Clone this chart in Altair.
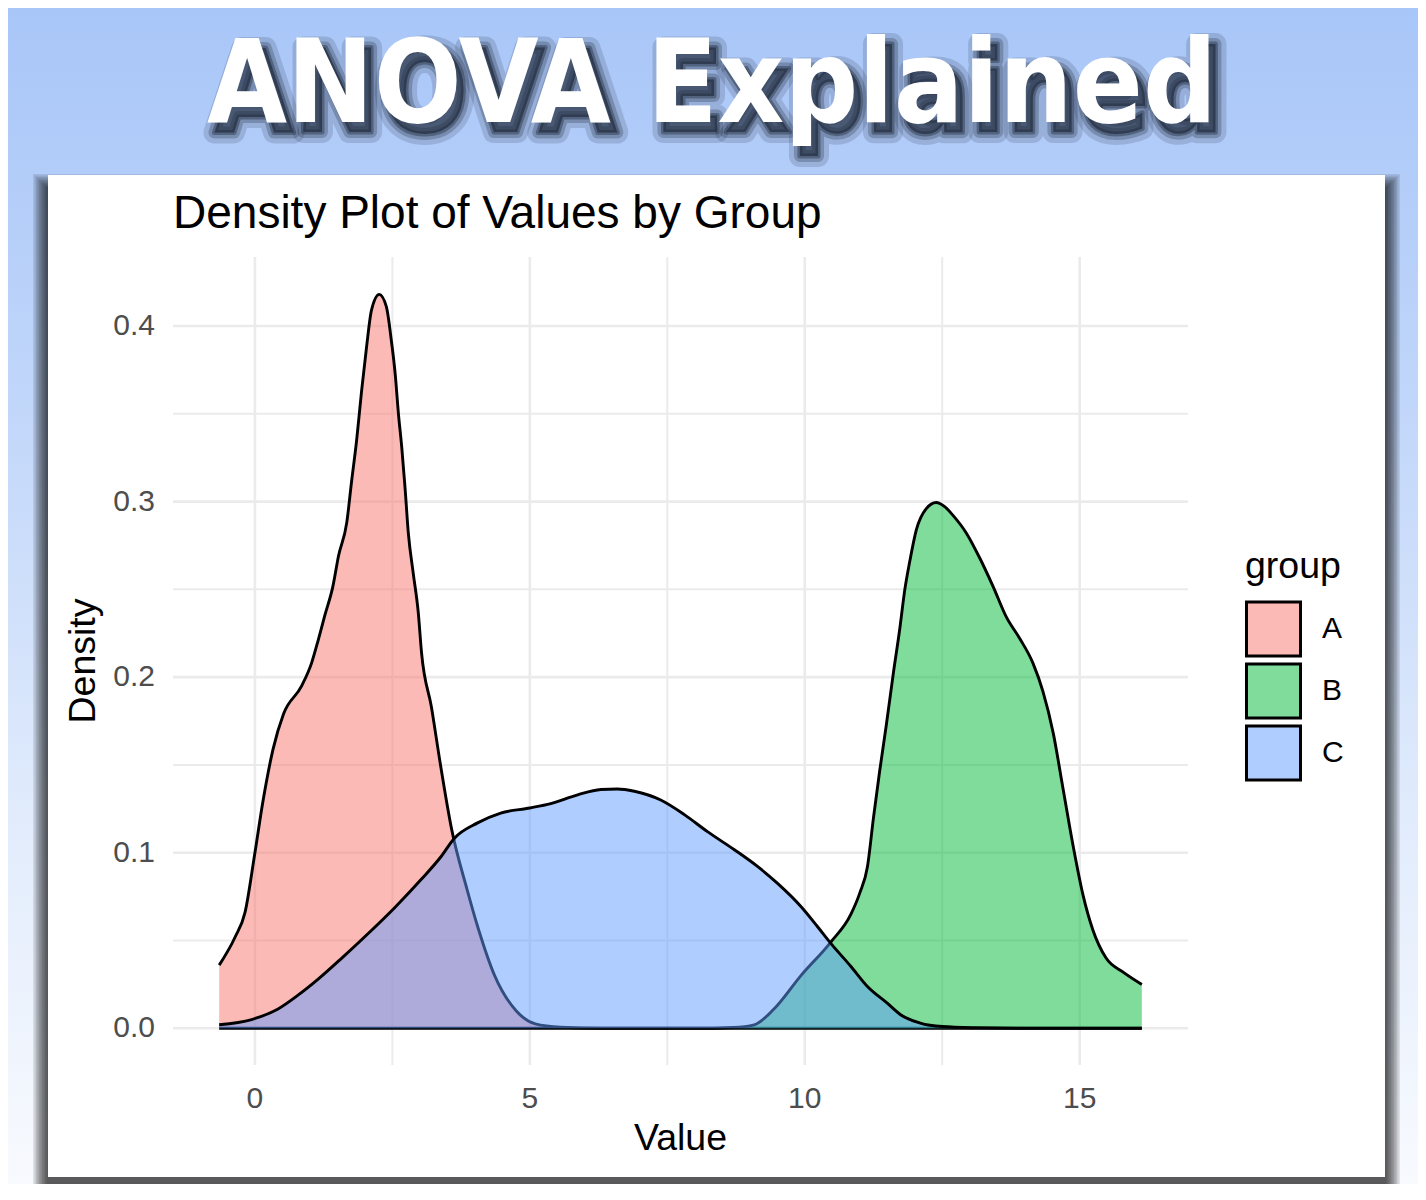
import altair as alt
import pandas as pd

# ---------------- data ----------------
A_x = [-0.65, -0.36, -0.18, 0.0, 0.15, 0.33, 0.52, 0.85, 1.03, 1.15, 1.27, 1.42, 1.52, 1.67, 1.76,
       1.85, 1.94, 2.03, 2.12, 2.26, 2.39, 2.48, 2.55, 2.61, 2.67, 2.73, 2.79, 2.88, 2.97, 3.03,
       3.21, 3.37, 3.58, 3.85, 4.06, 4.36, 4.75, 5.1, 5.56, 6.3, 16.13]
A_d = [0.036, 0.052, 0.066, 0.100, 0.130, 0.159, 0.179, 0.195, 0.208, 0.221, 0.235, 0.252, 0.269, 0.288, 0.312,
       0.335, 0.363, 0.388, 0.409, 0.418, 0.411, 0.392, 0.373, 0.350, 0.331, 0.308, 0.282, 0.259, 0.237, 0.214,
       0.183, 0.151, 0.113, 0.080, 0.057, 0.030, 0.010, 0.0025, 0.0006, 0.0, 0.0]

B_x = [-0.65, 8.0, 8.7, 9.08, 9.44, 9.93, 10.47, 10.84, 11.0, 11.14, 11.25, 11.36, 11.48, 11.61, 11.73,
       11.82, 11.91, 12.03, 12.21, 12.39, 12.55, 12.7, 12.94, 13.18, 13.42, 13.67, 13.91, 14.15, 14.33, 14.52,
       14.70, 14.88, 15.06, 15.24, 15.48, 15.79, 16.13]
B_d = [0.0, 0.0, 0.0005, 0.002, 0.011, 0.030, 0.049, 0.065, 0.077, 0.092, 0.120, 0.146, 0.172, 0.202, 0.228,
       0.250, 0.266, 0.284, 0.296, 0.2995, 0.297, 0.292, 0.282, 0.268, 0.252, 0.234, 0.222, 0.208, 0.192, 0.168,
       0.136, 0.104, 0.076, 0.056, 0.040, 0.032, 0.025]

C_x = [-0.65, -0.06, 0.42, 0.79, 1.15, 1.58, 2.06, 2.55, 3.03, 3.39, 3.62, 4.05, 4.47, 5.0, 5.38,
       5.87, 6.29, 6.59, 6.9, 7.38, 7.81, 8.23, 8.72, 9.14, 9.5, 9.93, 10.23, 10.47, 10.84, 11.14,
       11.5, 11.75, 12.1, 12.5, 13.1, 14.0, 16.13]
C_d = [0.002, 0.005, 0.011, 0.019, 0.028, 0.040, 0.054, 0.069, 0.085, 0.098, 0.108, 0.117, 0.1226, 0.1255, 0.128,
       0.133, 0.136, 0.1363, 0.135, 0.130, 0.1217, 0.112, 0.1017, 0.0922, 0.0827, 0.0694, 0.058, 0.0485, 0.0352, 0.0238,
       0.0143, 0.0076, 0.003, 0.001, 0.0003, 0.0, 0.0]

groups = ["A", "B", "C"]
fill_colors = ["rgba(248,118,109,0.5)", "rgba(0,186,56,0.5)", "rgba(97,156,255,0.5)"]

x_major = [0, 5, 10, 15]
x_minor = [2.5, 7.5, 12.5]
y_major = [0.0, 0.1, 0.2, 0.3, 0.4]
y_minor = [0.05, 0.15, 0.25, 0.35]
x_labels = ["0", "5", "10", "15"]
y_labels = ["0.0", "0.1", "0.2", "0.3", "0.4"]

x_domain = [-1.49, 16.97]
y_domain = [-0.0209, 0.4393]

main_title = "ANOVA Explained"
plot_title = "Density Plot of Values by Group"
x_title = "Value"
y_title = "Density"
legend_title = "group"

# ---------------- layout ----------------
W, H = 1015, 808
PL, PT, PR, PB = 165, 249, 230, 119
FONT = "Liberation Sans"
BIG_FONT = "DejaVu Sans Condensed"
BIG_SIZE = 115

df = pd.concat([
    pd.DataFrame({"x": A_x, "density": A_d, "group": "A"}),
    pd.DataFrame({"x": B_x, "density": B_d, "group": "B"}),
    pd.DataFrame({"x": C_x, "density": C_d, "group": "C"}),
], ignore_index=True)

one = pd.DataFrame({"k": [0]})

xscale = alt.Scale(domain=x_domain, nice=False, zero=False)
yscale = alt.Scale(domain=y_domain, nice=False, zero=False)
fscale = alt.Scale(domain=groups, range=fill_colors)

layers = []

# page background gradient
bg = alt.Chart(one).mark_rect(
    fill=alt.LinearGradient(
        gradient="linear",
        stops=[alt.GradientStop(color="#a8c6f8", offset=0),
               alt.GradientStop(color="#c2d7fa", offset=0.35),
               alt.GradientStop(color="#e2ecfc", offset=0.7),
               alt.GradientStop(color="#f8fafe", offset=1)],
        x1=0, x2=0, y1=0, y2=1),
).encode(x=alt.value(-PL), x2=alt.value(W + PR), y=alt.value(-PT), y2=alt.value(H + PB))
layers.append(bg)

# panel shadow
px0, px1, py0, py1 = -125, 1212, -82, 920
for k in range(1, 11):
    e = 1.5 * k
    layers.append(
        alt.Chart(one).mark_rect(fill="#000000", opacity=0.095).encode(
            x=alt.value(px0 - e), x2=alt.value(px1 + e),
            y=alt.value(py0 + 14 - e), y2=alt.value(py1 + 14 + e))
    )

# white panel
layers.append(alt.Chart(one).mark_rect(fill="white").encode(
    x=alt.value(px0), x2=alt.value(px1), y=alt.value(py0), y2=alt.value(py1)))

# grid lines
layers.append(alt.Chart(pd.DataFrame({"v": x_minor})).mark_rule(color="#ebebeb", strokeWidth=2.0).encode(
    x=alt.X("v:Q", scale=xscale, axis=None)))
layers.append(alt.Chart(pd.DataFrame({"v": y_minor})).mark_rule(color="#ebebeb", strokeWidth=2.0).encode(
    y=alt.Y("v:Q", scale=yscale, axis=None)))
layers.append(alt.Chart(pd.DataFrame({"v": x_major})).mark_rule(color="#ebebeb", strokeWidth=2.6).encode(
    x=alt.X("v:Q", scale=xscale, axis=None)))
layers.append(alt.Chart(pd.DataFrame({"v": y_major})).mark_rule(color="#ebebeb", strokeWidth=2.6).encode(
    y=alt.Y("v:Q", scale=yscale, axis=None)))

legend = alt.Legend(title=legend_title, orient="none", legendX=1072, legendY=291, padding=0,
                    symbolType="square", symbolSize=2916, symbolStrokeColor="black", symbolStrokeWidth=3,
                    titleFontSize=37.5, titleFont=FONT, titleColor="black", titleFontWeight="normal",
                    titlePadding=15, labelFontSize=30, labelFont=FONT, labelColor="black",
                    labelOffset=20, rowPadding=-9)

for g in groups:
    area = alt.Chart(df).transform_filter(alt.datum.group == g).mark_area(
        interpolate="monotone", strokeWidth=0).encode(
        x=alt.X("x:Q", scale=xscale, axis=None),
        y=alt.Y("density:Q", scale=yscale, axis=None), y2=alt.datum(0),
        fill=alt.Fill("group:N", scale=fscale, legend=legend))
    line = alt.Chart(df).transform_filter(alt.datum.group == g).mark_line(
        interpolate="monotone", color="black", strokeWidth=2.9).encode(
        x=alt.X("x:Q", scale=xscale, axis=None), y=alt.Y("density:Q", scale=yscale, axis=None))
    layers += [area, line]

# tick labels (placed through the scales)
layers.append(alt.Chart(pd.DataFrame({"v": x_major, "t": x_labels})).mark_text(
    align="center", baseline="alphabetic", font=FONT, fontSize=30, color="#4d4d4d").encode(
    x=alt.X("v:Q", scale=xscale, axis=None), y=alt.value(H + 42.5), text="t:N"))
layers.append(alt.Chart(pd.DataFrame({"v": y_major, "t": y_labels})).mark_text(
    align="right", baseline="middle", font=FONT, fontSize=30, color="#4d4d4d").encode(
    y=alt.Y("v:Q", scale=yscale, axis=None), x=alt.value(-18), text="t:N"))

# axis titles
layers.append(alt.Chart(one).mark_text(text=x_title, align="center", baseline="alphabetic",
                                        font=FONT, fontSize=37.5, color="black").encode(
    x=alt.value(W / 2), y=alt.value(H + 85)))
layers.append(alt.Chart(one).mark_text(text=y_title, align="center", baseline="alphabetic", angle=270,
                                        font=FONT, fontSize=37.5, color="black").encode(
    x=alt.value(-78), y=alt.value(H / 2)))

# plot title
layers.append(alt.Chart(one).mark_text(text=plot_title, align="left", baseline="alphabetic",
                                        font=FONT, fontSize=46, color="black").encode(
    x=alt.value(0), y=alt.value(-29)))

# big title with soft shadow
TX, TY = 539, -135
for sw, op in ((22, 0.16), (12, 0.26), (5, 0.4)):
    layers.append(alt.Chart(one).mark_text(
        text=main_title, align="center", baseline="alphabetic", font=BIG_FONT, fontWeight="bold",
        fontSize=BIG_SIZE, fill="#1c2638", fillOpacity=op, stroke="#1c2638", strokeWidth=sw,
        strokeOpacity=op, strokeJoin="round").encode(
        x=alt.value(TX + 7), y=alt.value(TY + 10)))
layers.append(alt.Chart(one).mark_text(
    text=main_title, align="center", baseline="alphabetic", font=BIG_FONT, fontWeight="bold",
    fontSize=BIG_SIZE, color="white").encode(x=alt.value(TX), y=alt.value(TY)))

chart = alt.layer(*layers).properties(
    width=W, height=H,
    autosize=alt.AutoSizeParams(type="none"),
    padding={"left": PL, "top": PT, "right": PR, "bottom": PB},
    background="white",
).configure_view(strokeWidth=0)

chart.save("out.html", embed_options={"renderer": "svg", "actions": False})
